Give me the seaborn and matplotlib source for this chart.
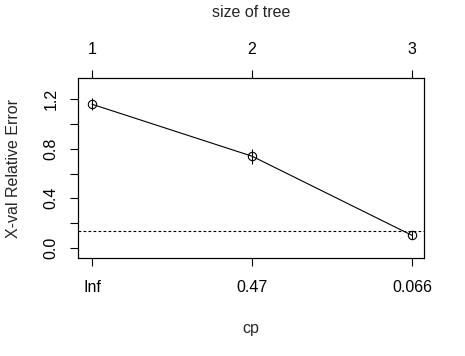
import numpy as np
import pandas as pd
import seaborn as sns
import matplotlib.pyplot as plt

# cp table
cp_labels = ['Inf', '0.47', '0.066']
tree_size = [1, 2, 3]
xerror = [1.16, 0.74, 0.10]
xstd = [0.05, 0.06, 0.032]
min_line = 0.132

df = pd.DataFrame({'pos': tree_size, 'xerror': xerror, 'xstd': xstd})

sns.set_theme(style='ticks')
plt.rcParams['font.family'] = ['Liberation Sans', 'DejaVu Sans']
plt.rcParams['axes.linewidth'] = 0.8

fig = plt.figure(figsize=(4.65, 3.56), dpi=100)
ax = fig.add_axes([78 / 465, 98 / 356, 346 / 465, 180 / 356])

# error bars (no caps) then the line with open circles
_ = ax.errorbar(df['pos'], df['xerror'], yerr=df['xstd'], fmt='none',
                ecolor='black', elinewidth=0.8, capsize=0)
_ = sns.lineplot(data=df, x='pos', y='xerror', ax=ax, color='black',
                 linewidth=0.8, marker='o', markersize=6,
                 markerfacecolor='none', markeredgecolor='black',
                 markeredgewidth=0.8)
_ = ax.axhline(min_line, color='black', linewidth=0.8, linestyle=(0, (2.5, 2)))

ax.set_xlim(0.9125, 3.075)
ax.set_ylim(-0.083, 1.372)

for s in ax.spines.values():
    s.set_visible(True)
    s.set_color('black')

ax.set_xticks(tree_size)
ax.set_xticklabels(cp_labels)
yt = np.round(np.arange(0, 1.21, 0.2), 1)
ax.set_yticks(yt)
ax.set_yticklabels([f'{v:.1f}' if i % 2 == 0 else '' for i, v in enumerate(yt)],
                   rotation=90, va='center')
ax.tick_params(axis='both', length=6, width=0.8, colors='black',
               labelsize=11.5)
ax.tick_params(axis='x', pad=10)
ax.tick_params(axis='y', pad=8)

ax.set_xlabel('cp', fontsize=11.5)
ax.set_ylabel('X-val Relative Error', fontsize=11.5)
ax.xaxis.set_label_coords(0.5, -0.35)
ax.yaxis.set_label_coords(-0.165, 0.5)

# top axis: size of tree
ax2 = ax.twiny()
ax2.set_xlim(ax.get_xlim())
ax2.set_xticks(tree_size)
ax2.set_xticklabels([str(t) for t in tree_size])
ax2.tick_params(axis='x', length=6, width=0.8, colors='black',
                labelsize=11.5, pad=9)
ax2.set_xlabel('size of tree', fontsize=11.5)
ax2.xaxis.set_label_coords(0.5, 1.339)
for s in ax2.spines.values():
    s.set_color('black')

fig.savefig('out.png', dpi=100, facecolor='white')
